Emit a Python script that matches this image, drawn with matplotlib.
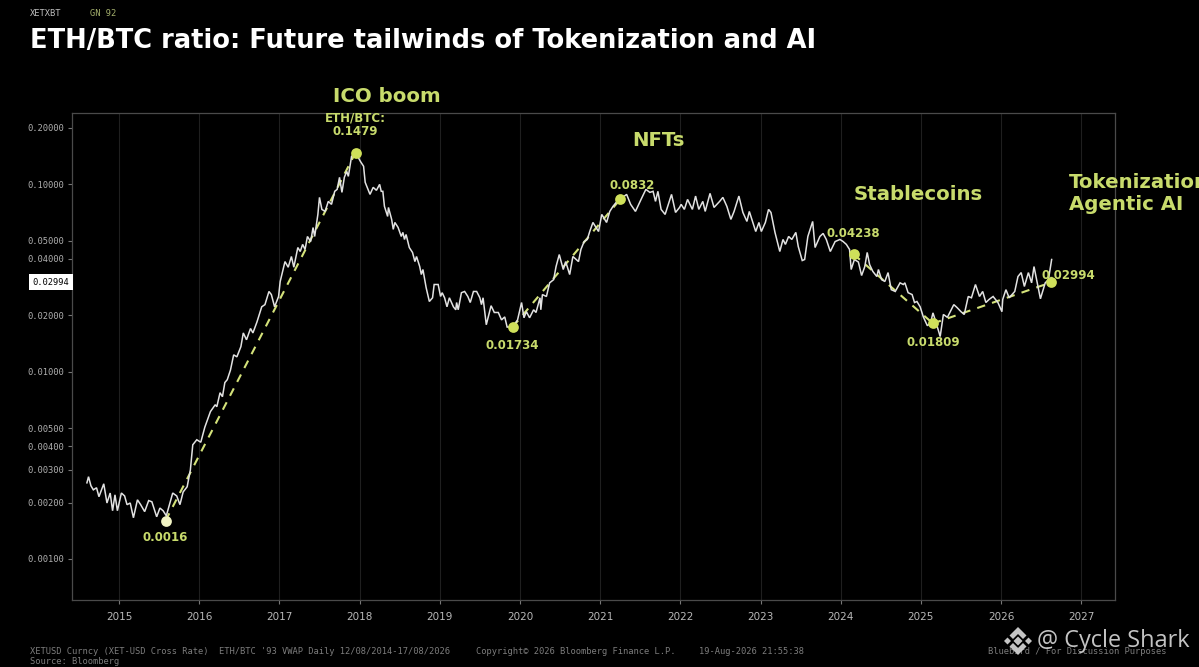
#!/usr/bin/env python3
import matplotlib
matplotlib.use("Agg")
import matplotlib.pyplot as plt
from matplotlib.patches import Polygon

years = [
    2014.60, 2014.62, 2014.65, 2014.68, 2014.72, 2014.75, 2014.81, 2014.85, 2014.89, 2014.92, 2014.95, 2014.98,
    2015.03, 2015.07, 2015.10, 2015.14, 2015.18, 2015.23, 2015.27, 2015.32, 2015.37, 2015.41, 2015.47, 2015.51,
    2015.55, 2015.59, 2015.67, 2015.72, 2015.76, 2015.80, 2015.85, 2015.89, 2015.92, 2015.97, 2016.02, 2016.07,
    2016.14, 2016.20, 2016.22, 2016.26, 2016.29, 2016.32, 2016.35, 2016.39, 2016.43, 2016.47, 2016.52, 2016.55,
    2016.59, 2016.64, 2016.67, 2016.72, 2016.78, 2016.82, 2016.87, 2016.90, 2016.94, 2016.99, 2017.01, 2017.07,
    2017.11, 2017.15, 2017.18, 2017.23, 2017.26, 2017.29, 2017.32, 2017.35, 2017.39, 2017.42, 2017.44, 2017.48,
    2017.50, 2017.53, 2017.57, 2017.61, 2017.65, 2017.69, 2017.72, 2017.75, 2017.78, 2017.81, 2017.84, 2017.86,
    2017.90, 2017.95, 2018.01, 2018.05, 2018.07, 2018.13, 2018.17, 2018.21, 2018.25, 2018.27, 2018.29, 2018.31,
    2018.35, 2018.36, 2018.40, 2018.42, 2018.44, 2018.48, 2018.52, 2018.54, 2018.56, 2018.58, 2018.62, 2018.66,
    2018.69, 2018.71, 2018.75, 2018.77, 2018.79, 2018.83, 2018.87, 2018.91, 2018.93, 2018.98, 2019.01, 2019.03,
    2019.06, 2019.09, 2019.12, 2019.17, 2019.20, 2019.21, 2019.23, 2019.27, 2019.31, 2019.35, 2019.38, 2019.42,
    2019.46, 2019.50, 2019.52, 2019.54, 2019.58, 2019.64, 2019.68, 2019.73, 2019.77, 2019.81, 2019.84, 2019.91,
    2019.97, 2020.02, 2020.05, 2020.08, 2020.12, 2020.17, 2020.20, 2020.25, 2020.26, 2020.28, 2020.33, 2020.37,
    2020.42, 2020.45, 2020.49, 2020.54, 2020.57, 2020.62, 2020.66, 2020.73, 2020.76, 2020.80, 2020.84, 2020.87,
    2020.91, 2020.98, 2021.02, 2021.08, 2021.12, 2021.16, 2021.21, 2021.25, 2021.33, 2021.38, 2021.44, 2021.51,
    2021.57, 2021.62, 2021.66, 2021.69, 2021.72, 2021.76, 2021.81, 2021.89, 2021.94, 2021.99, 2022.01, 2022.05,
    2022.09, 2022.15, 2022.19, 2022.23, 2022.28, 2022.31, 2022.37, 2022.42, 2022.49, 2022.53, 2022.58, 2022.63,
    2022.67, 2022.73, 2022.78, 2022.83, 2022.86, 2022.94, 2022.98, 2023.01, 2023.06, 2023.10, 2023.13, 2023.18,
    2023.24, 2023.28, 2023.31, 2023.35, 2023.39, 2023.44, 2023.47, 2023.52, 2023.55, 2023.59, 2023.65, 2023.68,
    2023.74, 2023.78, 2023.82, 2023.87, 2023.93, 2023.99, 2024.03, 2024.07, 2024.11, 2024.13, 2024.17, 2024.22,
    2024.26, 2024.30, 2024.33, 2024.36, 2024.40, 2024.45, 2024.47, 2024.51, 2024.55, 2024.59, 2024.63, 2024.68,
    2024.74, 2024.78, 2024.80, 2024.84, 2024.89, 2024.92, 2024.95, 2024.99, 2025.03, 2025.08, 2025.12, 2025.15,
    2025.19, 2025.24, 2025.28, 2025.33, 2025.41, 2025.45, 2025.50, 2025.54, 2025.59, 2025.63, 2025.68, 2025.73,
    2025.77, 2025.81, 2025.85, 2025.90, 2025.96, 2026.01, 2026.02, 2026.06, 2026.10, 2026.17, 2026.21, 2026.25,
    2026.29, 2026.34, 2026.38, 2026.41, 2026.46, 2026.49, 2026.55, 2026.59, 2026.63,
]
ratio = [
    .00255, .00275, .00246, .00234, .00240, .00215, .00252, .00199, .00225, .00181, .00220, .00181,
    .00225, .00217, .00195, .00199, .00166, .00207, .00195, .00179, .00205, .00202, .00168, .00187,
    .00181, .00170, .00225, .00217, .00195, .00228, .00243, .00299, .00407, .00433, .00420, .00505,
    .00612, .00666, .00650, .00772, .00735, .00875, .00906, .0102, .0123, .0120, .0136, .0161,
    .0148, .0170, .0161, .0184, .0222, .0228, .0268, .0258, .0222, .0252, .0303, .0387,
    .0361, .0412, .0361, .0460, .0438, .0478, .0449, .0527, .0495, .0588, .0527, .0691,
    .0852, .0735, .0717, .0811, .0782, .0918, .0940, .1090, .0906, .1090, .1173, .1103,
    .1410, .1479, .1327, .1249, .1025, .0884, .0964, .0929, .1000, .0918, .0918, .0763,
    .0674, .0753, .0650, .0575, .0626, .0589, .0527, .0554, .0508, .0540, .0460, .0433,
    .0387, .0412, .0364, .0330, .0351, .0281, .0237, .0248, .0292, .0292, .0252, .0264,
    .0248, .0222, .0248, .0222, .0214, .0234, .0214, .0264, .0268, .0252, .0234, .0268,
    .0268, .0248, .0228, .0248, .0178, .0225, .0207, .0207, .0189, .0196, .0173, .01734,
    .0189, .0234, .0194, .0209, .0194, .0214, .0207, .0248, .0214, .0258, .0252, .0298,
    .0310, .0364, .0422, .0351, .0387, .0330, .0412, .0387, .0449, .0495, .0508, .0560,
    .0626, .0560, .0691, .0626, .0717, .0763, .0811, .0832, .0884, .0782, .0717, .0831,
    .0940, .0906, .0918, .0811, .0918, .0735, .0691, .0884, .0708, .0753, .0782, .0735,
    .0831, .0735, .0866, .0735, .0811, .0717, .0895, .0753, .0811, .0852, .0763, .0650,
    .0717, .0866, .0708, .0634, .0717, .0560, .0626, .0560, .0626, .0735, .0708, .0554,
    .0438, .0508, .0478, .0527, .0508, .0554, .0466, .0392, .0397, .0527, .0634, .0460,
    .0527, .0547, .0508, .0438, .0495, .0508, .0495, .0478, .0449, .0351, .0397, .0385,
    .0326, .0364, .0433, .0373, .0343, .0322, .0351, .0310, .0303, .0338, .0274, .0268,
    .0298, .0292, .0298, .0264, .0258, .0234, .0237, .0222, .0196, .0176, .0182, .0206,
    .0182, .0154, .0202, .0195, .0228, .0220, .0209, .0202, .0252, .0248, .0292, .0252,
    .0268, .0234, .0243, .0252, .0234, .0209, .0243, .0274, .0248, .0268, .0322, .0338,
    .0285, .0338, .0298, .0364, .0285, .0245, .0298, .0310, .0397,
]

# turning points: date, value, label, label offset in px
point_years = [2015.58, 2017.95, 2019.91, 2021.25, 2024.16, 2025.15, 2026.62]
point_values = [0.0016, 0.1479, 0.01734, 0.0832, 0.04238, 0.01809, 0.02994]
point_labels = ["0.0016", "ETH/BTC:\n0.1479", "0.01734", "0.0832", "0.04238", "0.01809", "0.02994"]
label_offsets = [(0, -17), (0, 28), (0, -19), (12, 14), (0, 21), (0, -19), (18, 7)]

# dashed trend legs, as index pairs into the turning points
trend_legs = [(0, 1), (2, 3), (4, 5), (5, 6)]

year_ticks = list(range(2015, 2028))
y_ticks = [0.2, 0.1, 0.05, 0.04, 0.02, 0.01, 0.005, 0.004, 0.003, 0.002, 0.001]
last_value = 0.02994

narratives = [("ICO boom", 333, 96), ("NFTs", 632, 140), ("Stablecoins", 854, 195),
              ("Tokenization", 1069, 183), ("Agentic AI", 1069, 205)]

W, H = 1199, 667
LIME = "#c8db6c"
DOT = "#cfe05a"
MONO = "DejaVu Sans Mono"


def fx(x):
    return x / W


def fy(y):
    return 1 - y / H


fig = plt.figure(figsize=(W / 100, H / 100), dpi=100, facecolor="black")
ax = fig.add_axes([fx(72), fy(600), 1043 / W, 487 / H], facecolor="black")

ax.set_yscale("log")
ax.set_xlim(2014.414, 2027.42)
ax.set_ylim(0.000604, 0.2404)
ax.grid(True, axis="x", color="#1f1f1f", lw=0.8)
ax.set_axisbelow(True)
for s in ax.spines.values():
    s.set_color("#4a4a4a")
    s.set_linewidth(0.9)

ax.set_xticks(year_ticks)
ax.set_xticklabels([str(y) for y in year_ticks], fontsize=7.5, color="#b8b8b8")
ax.set_yticks(y_ticks)
ax.set_yticklabels([f"{v:.5f}" for v in y_ticks], fontsize=6.35, color="#b0b0b0", family=MONO)
ax.minorticks_off()
ax.tick_params(axis="x", length=3, color="#777777", pad=6)
ax.tick_params(axis="y", length=3, color="#777777", pad=3)

ax.plot(years, ratio, color="#e2e2e2", lw=1.1, zorder=3, solid_joinstyle="miter")
for a, b in trend_legs:
    ax.plot([point_years[a], point_years[b]], [point_values[a], point_values[b]],
            color="#d4e27a", lw=1.5, dashes=(4, 3.5), zorder=2.5)

for i, (px, pv) in enumerate(zip(point_years, point_values)):
    ax.scatter([px], [pv], s=60, color="#f2f4c4" if i == 0 else DOT, lw=0, zorder=4)
    ax.annotate(point_labels[i], xy=(px, pv), xytext=(label_offsets[i][0] * 0.72, label_offsets[i][1] * 0.72),
                textcoords="offset points", ha="center", va="center", color=LIME,
                fontsize=8.5, fontweight="bold", zorder=5, linespacing=1.05)

# current value box on the axis
ax.annotate(f"{last_value:.5f}", xy=(0, last_value), xycoords=("axes fraction", "data"),
            xytext=(-2, 0), textcoords="offset points", ha="right", va="center",
            fontsize=6.35, family=MONO, color="black",
            bbox=dict(boxstyle="square,pad=0.4", fc="white", ec="none"), annotation_clip=False)

for text, x, y in narratives:
    fig.text(fx(x), fy(y), text, color=LIME, fontsize=14.2, fontweight="bold", ha="left", va="center")

fig.text(fx(30), fy(14), "XETXBT", color="#c0c0c0", fontsize=6.35, family=MONO, va="center")
fig.text(fx(90), fy(14), "GN 92", color="#a4b06c", fontsize=6.35, family=MONO, va="center")
fig.text(fx(30), fy(41), "ETH/BTC ratio: Future tailwinds of Tokenization and AI", color="white",
         fontsize=18.55, fontweight="bold", va="center")

footer = [
    ("XETUSD Curncy (XET-USD Cross Rate)  ETH/BTC '93 VWAP Daily 12/08/2014-17/08/2026", 30, 651),
    ("Copyright\u00a9 2026 Bloomberg Finance L.P.", 476, 651),
    ("19-Aug-2026 21:55:38", 699, 651),
    ("Bluebird / For Discussion Purposes", 988, 651),
    ("Source: Bloomberg", 30, 661),
]
for text, x, y in footer:
    fig.text(fx(x), fy(y), text, color="#7d7d7d", fontsize=6.35, family=MONO, va="center")

# watermark, logo made of diamonds and chevrons
cx, cy = 1018, 641
shapes = [
    [(0, -4.5), (4.5, 0), (0, 4.5), (-4.5, 0)],
    [(-14, 0), (-10.5, -3.5), (-7, 0), (-10.5, 3.5)],
    [(14, 0), (10.5, -3.5), (7, 0), (10.5, 3.5)],
    [(0, -14), (8.5, -5.5), (5, -2), (0, -7), (-5, -2), (-8.5, -5.5)],
    [(0, 14), (8.5, 5.5), (5, 2), (0, 7), (-5, 2), (-8.5, 5.5)],
]
for shape in shapes:
    fig.add_artist(Polygon([(fx(cx + dx), fy(cy + dy)) for dx, dy in shape], closed=True,
                           transform=fig.transFigure, fc="#d0d0d0", ec="none", alpha=0.95, zorder=6))
fig.text(fx(1037), fy(641), "@ Cycle Shark", color="#cfcfcf", fontsize=16.9, family="Open Sans",
         va="center", zorder=6, alpha=0.95)

fig.savefig("out.png", dpi=100, facecolor="black")
